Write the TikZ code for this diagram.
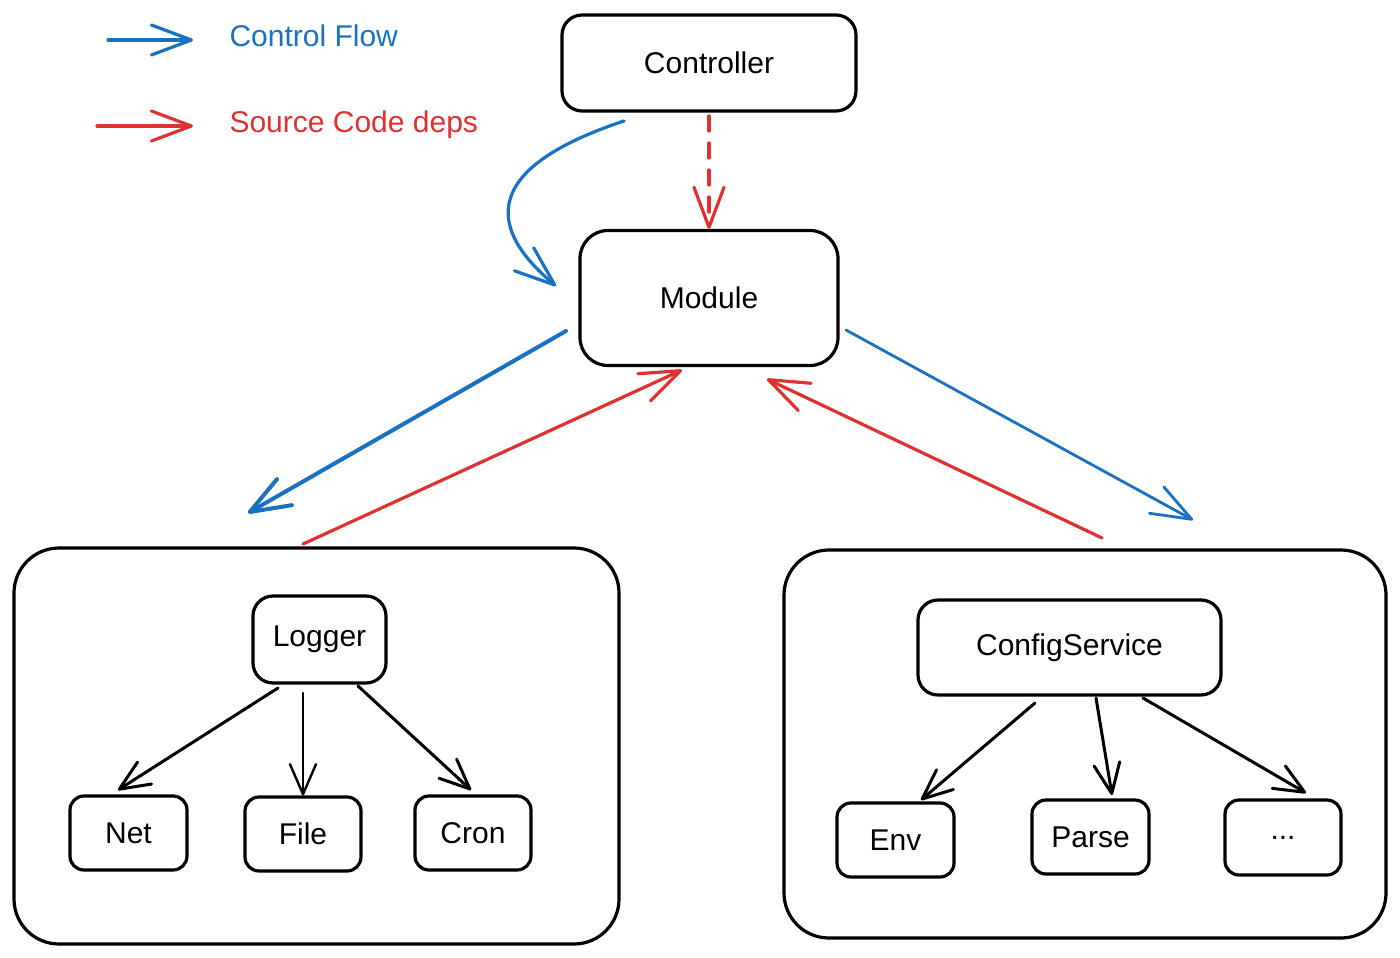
\documentclass[tikz,border=0pt]{standalone}
\usepackage{fontspec}
\setmainfont{Liberation Sans}
\usetikzlibrary{arrows.meta}
\definecolor{cblue}{HTML}{1971C2}
\definecolor{cred}{HTML}{E03131}
\begin{document}
\begin{tikzpicture}[x=1pt,y=-1pt,
  box/.style={draw=black, line width=3.2pt, rounded corners=20pt, inner sep=0pt,
    font=\fontsize{30}{34}\selectfont, text=black},
  bigbox/.style={draw=black, line width=3.2pt, rounded corners=45pt, inner sep=0pt},
  tip/.style={-{Straight Barb[length=40pt,width=30pt,round]}},
  smalltip/.style={-{Straight Barb[length=30pt,width=26pt,round]}},
  flow/.style={cblue, line width=3.2pt, line cap=round, tip},
  dep/.style={cred, line width=3.2pt, line cap=round, tip},
  sub/.style={black, line width=3pt, line cap=round, smalltip},
  legend/.style={font=\fontsize{30}{34}\selectfont, anchor=west}
]
\fill[white] (0,0) rectangle (1400,958);
\useasboundingbox (0,0) rectangle (1400,958);

% legend
\coordinate (lb1) at (108,40);
\coordinate (lb2) at (193,40);
\coordinate (lr1) at (97,126);
\coordinate (lr2) at (193,126);
\draw[flow] (lb1) -- (lb2);
\draw[dep] (lr1) -- (lr2);
\node[legend, text=cblue] (lgb) at (226,36) {Control Flow};
\node[legend, text=cred] (lgr) at (226,125) {Source Code deps};

% main nodes
\node[box, minimum width=294pt, minimum height=96pt] (ctrl) at (709,63) {Controller};
\node[box, minimum width=258pt, minimum height=135pt, rounded corners=28pt] (mod) at (709,298) {Module};

% containers
\node[bigbox, minimum width=605pt, minimum height=396pt] (left) at (316.5,746) {};
\node[bigbox, minimum width=602pt, minimum height=388pt] (right) at (1085,744) {};

% left content
\node[box, minimum width=133pt, minimum height=87pt] (log) at (319.5,639.5) {Logger};
\node[box, minimum width=117pt, minimum height=74pt, rounded corners=14pt] (net) at (128.5,833) {Net};
\node[box, minimum width=116pt, minimum height=74pt, rounded corners=14pt] (file) at (303,834) {File};
\node[box, minimum width=116pt, minimum height=74pt, rounded corners=14pt] (cron) at (473,833) {Cron};

% right content
\node[box, minimum width=303pt, minimum height=95pt] (cfg) at (1069.5,647.5) {ConfigService};
\node[box, minimum width=117pt, minimum height=74pt, rounded corners=14pt] (env) at (895.5,840) {Env};
\node[box, minimum width=117pt, minimum height=74pt, rounded corners=14pt] (parse) at (1090.5,837) {Parse};
\node[box, minimum width=116pt, minimum height=75pt, rounded corners=14pt] (dots) at (1283,837.5) {...};

% connector end points
\coordinate (c1) at (624,121);
\coordinate (c2) at (556,286);
\coordinate (d1) at (709,116);
\coordinate (m1) at (566,331);
\coordinate (l1) at (248,513);
\coordinate (l2) at (303,544);
\coordinate (m2) at (682,370);
\coordinate (r1) at (1102,538);
\coordinate (m3) at (767,379);
\coordinate (m4) at (846,330);
\coordinate (r2) at (1193,520);

% top arrows
\draw[flow] (c1) .. controls (470,172) and (495,235) .. (c2);
\draw[dep, dashed, dash pattern=on 15pt off 12pt] (d1) -- (mod.north);
\draw[flow, line width=4pt] (m1) -- (l1);
\draw[dep] (l2) -- (m2);
\draw[dep] (r1) -- (m3);
\draw[flow, line width=2.8pt] (m4) -- (r2);

% left sub arrows
\coordinate (a1) at (278,688);
\coordinate (a2) at (118,790);
\coordinate (a3) at (303,693);
\coordinate (a5) at (358,686);
\coordinate (a6) at (471,790);
\draw[sub] (a1) -- (a2);
\draw[sub, line width=2.4pt] (a3) -- (file.north);
\draw[sub] (a5) -- (a6);

% right sub arrows
\coordinate (b1) at (1035,703);
\coordinate (b2) at (921,800);
\coordinate (b3) at (1096,698);
\coordinate (b4) at (1112,795);
\coordinate (b5) at (1143,698);
\coordinate (b6) at (1306,793);
\draw[sub] (b1) -- (b2);
\draw[sub] (b3) -- (b4);
\draw[sub] (b5) -- (b6);
\end{tikzpicture}
\end{document}
